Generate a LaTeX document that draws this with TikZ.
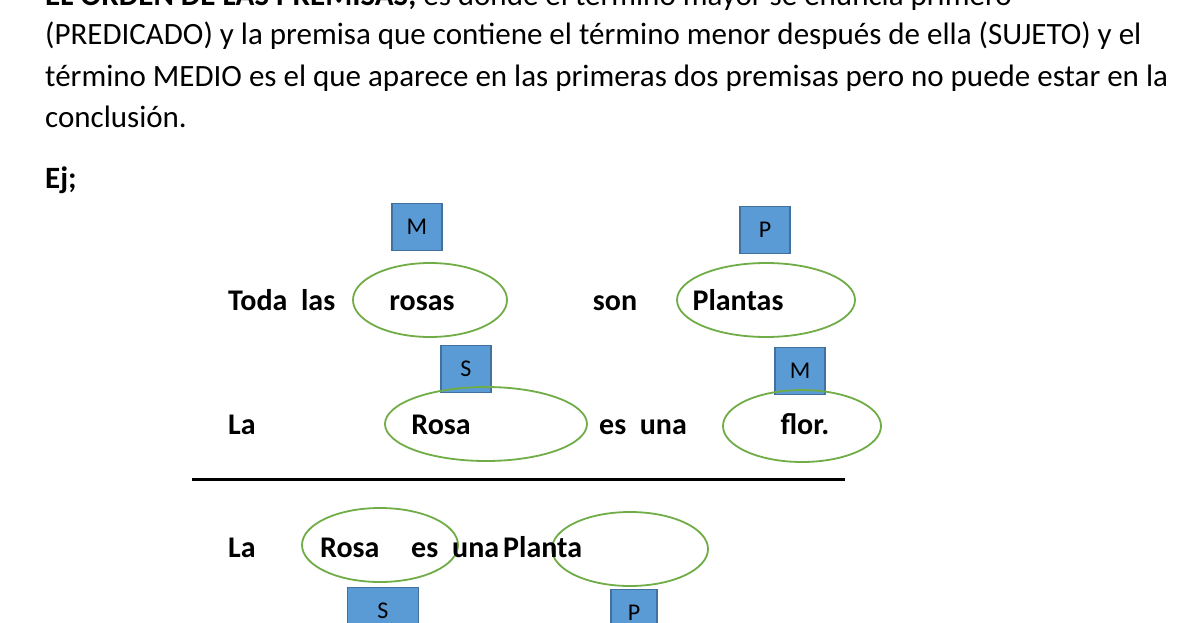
\documentclass[tikz,border=0pt]{standalone}
\usepackage{fontspec}
\setmainfont{Carlito}
\definecolor{sqfill}{RGB}{91,155,213}
\definecolor{sqdraw}{RGB}{65,113,156}
\definecolor{elg}{RGB}{112,173,71}
\begin{document}
\begin{tikzpicture}[x=1pt,y=-1pt,
  body/.style={anchor=base west,inner sep=0pt,font=\fontsize{31}{36}\selectfont},
  word/.style={anchor=base,inner sep=0pt,font=\fontsize{30}{34}\selectfont\bfseries},
  sq/.style={draw=sqdraw,fill=sqfill,line width=1.5pt,minimum width=#1,minimum height=47pt,inner sep=0pt,font=\fontsize{24}{28}\selectfont},
  sq/.default=50pt,
  ell/.style={draw=elg,line width=1.8pt}]
\useasboundingbox (0,0) rectangle (1185,623);
\clip (0,0) rectangle (1185,623);
\fill[white] (0,0) rectangle (1185,623);
\node[body] (t0) at (45,6) {\textbf{EL ORDEN DE LAS PREMISAS,} es donde el término mayor se enuncia primero};
\node[body] (t1) at (45,45) {(PREDICADO) y la premisa que contiene el término menor después de ella (SUJETO) y el};
\node[body] (t2) at (45,87) {término MEDIO es el que aparece en las primeras dos premisas pero no puede estar en la};
\node[body] (t3) at (45,128) {conclusión.};
\node[body] (ej) at (45,188) {\textbf{Ej;}};
% row 1
\node[sq] (m1) at (417,227) {M};
\node[sq] (p1) at (765,230) {P};
\draw[ell] (430,300) ellipse [x radius=77, y radius=37];
\draw[ell] (766,300) ellipse [x radius=89, y radius=37];
\node[word,anchor=base west] (toda) at (228,310) {Toda\ \ las};
\node[word] (rosas) at (422,310) {rosas};
\node[word] (son) at (615,310) {son};
\node[word] (plantas) at (738,310) {Plantas};
% row 2
\node[sq] (s2) at (466,369) {S};
\node[sq] (m2) at (800,371) {M};
\draw[ell] (486,424) ellipse [x radius=101, y radius=37];
\draw[ell] (802,426) ellipse [x radius=79, y radius=36];
\node[word,anchor=base west] (la2) at (228,434) {La};
\node[word] (rosa2) at (441,434) {Rosa};
\node[word] (esuna) at (643,434) {es\ \ una};
\node[word] (flor) at (805,434) {flor.};
% line
\coordinate (la) at (192,479);
\coordinate (lb) at (845,479);
\draw[line width=3pt] (la) -- (lb);
% row 3
\draw[ell] (380,545) ellipse [x radius=78, y radius=37];
\draw[ell] (630,549) ellipse [x radius=78, y radius=37];
\node[word,anchor=base west] (la3) at (228,557) {La};
\node[word,anchor=base west] (rosa3) at (320,557) {Rosa};
\node[word,anchor=base west] (es3) at (411,557) {es};
\node[word,anchor=base west] (una3) at (452,557) {una};
\node[word,anchor=base west] (planta3) at (503,557) {Planta};
\node[sq=71pt] (s3) at (383,611) {S};
\node[sq=46pt] (p3) at (634,613) {P};
\end{tikzpicture}
\end{document}
